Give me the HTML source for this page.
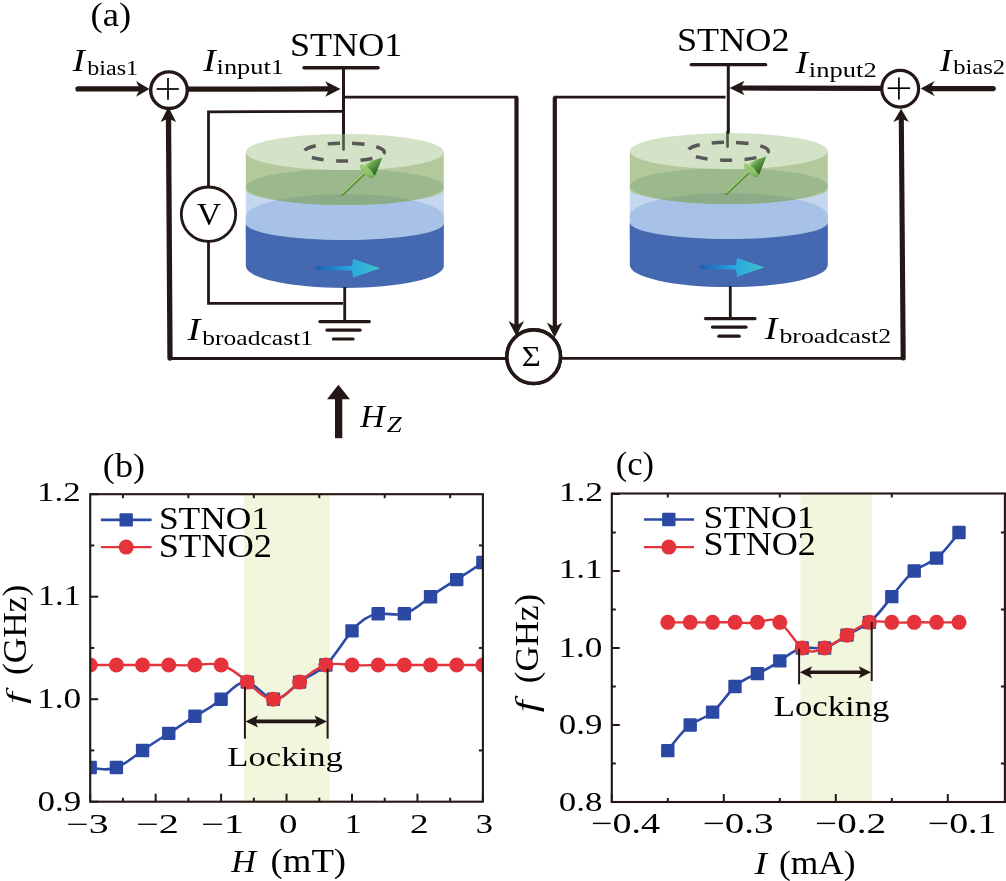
<!DOCTYPE html>
<html><head><meta charset="utf-8"><title>STNO figure</title>
<style>html,body{margin:0;padding:0;background:#fff;} svg{display:block;} text{font-family:"Liberation Serif", serif;}</style>
</head><body>
<svg width="1006" height="881" viewBox="0 0 1006 881">
<rect x="0" y="0" width="1006" height="881" fill="#fff"/>
<g transform="translate(0,0)">
<rect x="245.8" y="186" width="198.0" height="33" fill="#c4d7ee"/>
<rect x="245.8" y="216" width="198.0" height="26" fill="#a7c2e6"/>
<ellipse cx="344.8" cy="217" rx="99" ry="23" fill="#a7c2e6"/>
<path d="M245.8,223.5 V266 A99,22 0 0 0 443.8,266 V223.5 A99,16.5 0 0 1 245.8,223.5 Z" fill="#4469b1"/>
<path d="M245.8,152 V189.7 A99,14.5 0 0 0 443.8,189.7 V152 Z" fill="#b3c99c"/>
<ellipse cx="344.8" cy="187" rx="99" ry="18" fill="#9bb98d"/>
<clipPath id="cpL"><ellipse cx="344.8" cy="217" rx="99" ry="23"/></clipPath>
<ellipse cx="344.8" cy="187" rx="99" ry="18" fill="#8cab87" clip-path="url(#cpL)"/>
<ellipse cx="344.8" cy="152" rx="99" ry="18" fill="#d4e2c7"/>
<line x1="343.5" y1="133" x2="343.5" y2="149.5" stroke="#4a5f42" stroke-width="2.7" stroke-linecap="round"/>
<defs><linearGradient id="baL" x1="315.8" y1="0" x2="380.3" y2="0" gradientUnits="userSpaceOnUse"><stop offset="0" stop-color="#1f5db0"/><stop offset="0.55" stop-color="#26a9df"/><stop offset="1" stop-color="#45c1c7"/></linearGradient></defs>
<path d="M317.5,266 L352,266 L353,258.8 L380.3,268.2 L353,277.6 L352,270.4 L317.5,270.4 A2.2,2.2 0 0 1 317.5,266 Z" fill="url(#baL)"/>
<path d="M344.1,143.1 A40.2,9.0 0 0 1 344.1,161.1 A40.2,9.0 0 0 1 344.1,143.1 Z" pathLength="175.7" fill="none" stroke="#5a5758" stroke-width="3.5" stroke-dasharray="12.5 12.6" stroke-dashoffset="16.8"/>
<defs><linearGradient id="gcL" x1="366.5" y1="162.5" x2="375.5" y2="172.2" gradientUnits="userSpaceOnUse"><stop offset="0" stop-color="#c3e3a0"/><stop offset="0.3" stop-color="#6fa851"/><stop offset="1" stop-color="#336f25"/></linearGradient><linearGradient id="gdL" x1="361" y1="165" x2="374" y2="178" gradientUnits="userSpaceOnUse"><stop offset="0" stop-color="#9fd07c"/><stop offset="0.6" stop-color="#8cc268"/><stop offset="1" stop-color="#4f8a36"/></linearGradient></defs>
<path d="M382.4,157.4 L363.6,163.6 L375.0,175.9 Z" fill="url(#gcL)"/>
<line x1="342.3" y1="194.2" x2="367" y2="170.8" stroke="#5a9440" stroke-width="3.4" stroke-linecap="round"/>
<line x1="341.8" y1="193.5" x2="366.5" y2="170.2" stroke="#a8d486" stroke-width="1.5" stroke-linecap="round"/>
<ellipse cx="366.8" cy="171.2" rx="9.3" ry="3.4" transform="rotate(43.7 366.8 171.2)" fill="url(#gdL)"/>
</g>
<g transform="translate(384.0,-0.9)">
<rect x="245.8" y="186" width="198.0" height="33" fill="#c4d7ee"/>
<rect x="245.8" y="216" width="198.0" height="26" fill="#a7c2e6"/>
<ellipse cx="344.8" cy="217" rx="99" ry="23" fill="#a7c2e6"/>
<path d="M245.8,223.5 V266 A99,22 0 0 0 443.8,266 V223.5 A99,16.5 0 0 1 245.8,223.5 Z" fill="#4469b1"/>
<path d="M245.8,152 V189.7 A99,14.5 0 0 0 443.8,189.7 V152 Z" fill="#b3c99c"/>
<ellipse cx="344.8" cy="187" rx="99" ry="18" fill="#9bb98d"/>
<clipPath id="cpR"><ellipse cx="344.8" cy="217" rx="99" ry="23"/></clipPath>
<ellipse cx="344.8" cy="187" rx="99" ry="18" fill="#8cab87" clip-path="url(#cpR)"/>
<ellipse cx="344.8" cy="152" rx="99" ry="18" fill="#d4e2c7"/>
<line x1="343.5" y1="133" x2="343.5" y2="147.5" stroke="#4a5f42" stroke-width="2.7" stroke-linecap="round"/>
<defs><linearGradient id="baR" x1="315.8" y1="0" x2="380.3" y2="0" gradientUnits="userSpaceOnUse"><stop offset="0" stop-color="#1f5db0"/><stop offset="0.55" stop-color="#26a9df"/><stop offset="1" stop-color="#45c1c7"/></linearGradient></defs>
<path d="M317.5,266 L352,266 L353,258.8 L380.3,268.2 L353,277.6 L352,270.4 L317.5,270.4 A2.2,2.2 0 0 1 317.5,266 Z" fill="url(#baR)"/>
<path d="M344.1,143.1 A40.2,9.0 0 0 1 344.1,161.1 A40.2,9.0 0 0 1 344.1,143.1 Z" pathLength="175.7" fill="none" stroke="#5a5758" stroke-width="3.5" stroke-dasharray="12.5 12.6" stroke-dashoffset="16.8"/>
<defs><linearGradient id="gcR" x1="366.5" y1="162.5" x2="375.5" y2="172.2" gradientUnits="userSpaceOnUse"><stop offset="0" stop-color="#c3e3a0"/><stop offset="0.3" stop-color="#6fa851"/><stop offset="1" stop-color="#336f25"/></linearGradient><linearGradient id="gdR" x1="361" y1="165" x2="374" y2="178" gradientUnits="userSpaceOnUse"><stop offset="0" stop-color="#9fd07c"/><stop offset="0.6" stop-color="#8cc268"/><stop offset="1" stop-color="#4f8a36"/></linearGradient></defs>
<path d="M382.4,157.4 L363.6,163.6 L375.0,175.9 Z" fill="url(#gcR)"/>
<line x1="342.3" y1="194.2" x2="367" y2="170.8" stroke="#5a9440" stroke-width="3.4" stroke-linecap="round"/>
<line x1="341.8" y1="193.5" x2="366.5" y2="170.2" stroke="#a8d486" stroke-width="1.5" stroke-linecap="round"/>
<ellipse cx="366.8" cy="171.2" rx="9.3" ry="3.4" transform="rotate(43.7 366.8 171.2)" fill="url(#gdR)"/>
</g>
<line x1="304.05" y1="67.7" x2="378.05" y2="67.7" stroke="#231815" stroke-width="3.5" stroke-linecap="round"/>
<line x1="343.5" y1="67.7" x2="343.5" y2="134" stroke="#231815" stroke-width="3.0" stroke-linecap="butt"/>
<line x1="78" y1="88.9" x2="140" y2="88.9" stroke="#231815" stroke-width="5.3" stroke-linecap="round"/>
<path d="M149.50,88.90 L136.00,96.80 L140.00,88.90 L136.00,81.00 Z" fill="#231815"/>
<circle cx="169" cy="90.2" r="18.3" fill="#fff" stroke="#231815" stroke-width="3.4"/>
<line x1="156.7" y1="89" x2="178.8" y2="89" stroke="#000" stroke-width="1.7" stroke-linecap="butt"/>
<line x1="168" y1="78" x2="168" y2="99.8" stroke="#000" stroke-width="1.7" stroke-linecap="butt"/>
<line x1="188" y1="89.2" x2="331" y2="88.9" stroke="#231815" stroke-width="5.2" stroke-linecap="butt"/>
<path d="M340.60,88.90 L325.30,96.65 L329.30,88.90 L325.30,81.15 Z" fill="#231815"/>
<polyline points="343.5,97.2 516.5,97.2 516.5,323" fill="none" stroke="#231815" stroke-width="2.8" stroke-linecap="butt" stroke-linejoin="miter"/>
<line x1="516.5" y1="97.2" x2="516.5" y2="330" stroke="#231815" stroke-width="4.2" stroke-linecap="butt"/>
<path d="M516.30,336.00 L508.50,321.00 L516.30,325.50 L524.10,321.00 Z" fill="#231815"/>
<polyline points="343.5,111.3 208.5,111.8 208.5,186" fill="none" stroke="#231815" stroke-width="2.8" stroke-linecap="butt" stroke-linejoin="miter"/>
<polyline points="208.5,242 208.5,303.4 343,303.4" fill="none" stroke="#231815" stroke-width="2.8" stroke-linecap="butt" stroke-linejoin="miter"/>
<circle cx="208.5" cy="214.2" r="27.2" fill="#fff" stroke="#231815" stroke-width="2.8"/>
<line x1="344.7" y1="287" x2="344.7" y2="321.6" stroke="#231815" stroke-width="2.8" stroke-linecap="butt"/>
<line x1="319.90000000000003" y1="321.6" x2="369.29999999999995" y2="321.6" stroke="#231815" stroke-width="3.2" stroke-linecap="round"/>
<line x1="326.90000000000003" y1="330.1" x2="360.09999999999997" y2="330.1" stroke="#231815" stroke-width="3.2" stroke-linecap="round"/>
<line x1="333.40000000000003" y1="339.0" x2="353.09999999999997" y2="339.0" stroke="#231815" stroke-width="3.2" stroke-linecap="round"/>
<line x1="170.3" y1="358.5" x2="506" y2="358.5" stroke="#231815" stroke-width="2.8" stroke-linecap="butt"/>
<line x1="168.5" y1="118" x2="170.0" y2="358.0" stroke="#231815" stroke-width="5.3" stroke-linecap="round"/>
<path d="M168.40,106.80 L176.10,122.00 L168.40,118.50 L160.70,122.00 Z" fill="#231815"/>
<circle cx="533.7" cy="356.7" r="26.8" fill="#fff" stroke="#231815" stroke-width="3.6"/>
<line x1="691.2" y1="64.7" x2="765.7" y2="64.7" stroke="#231815" stroke-width="3.2" stroke-linecap="round"/>
<line x1="728.3" y1="64.7" x2="728.3" y2="133.5" stroke="#231815" stroke-width="3.0" stroke-linecap="butt"/>
<polyline points="725.5,97.2 554.8,97.2 554.8,324" fill="none" stroke="#231815" stroke-width="2.8" stroke-linecap="butt" stroke-linejoin="miter"/>
<line x1="554.8" y1="97.2" x2="554.8" y2="331" stroke="#231815" stroke-width="4.2" stroke-linecap="butt"/>
<path d="M554.60,337.60 L546.80,322.60 L554.60,327.10 L562.40,322.60 Z" fill="#231815"/>
<line x1="993.2" y1="88.6" x2="930" y2="88.6" stroke="#231815" stroke-width="5.2" stroke-linecap="round"/>
<path d="M920.70,88.60 L934.70,81.00 L930.20,88.60 L934.70,96.20 Z" fill="#231815"/>
<circle cx="900.2" cy="88.7" r="18.4" fill="#fff" stroke="#231815" stroke-width="3.2"/>
<line x1="887.6" y1="88.2" x2="910" y2="88.2" stroke="#000" stroke-width="1.7" stroke-linecap="butt"/>
<line x1="898.9" y1="77.4" x2="898.9" y2="99.5" stroke="#000" stroke-width="1.7" stroke-linecap="butt"/>
<line x1="881" y1="88.4" x2="740" y2="88.0" stroke="#231815" stroke-width="5.2" stroke-linecap="butt"/>
<path d="M729.50,88.00 L744.50,80.80 L740.50,88.00 L744.50,95.20 Z" fill="#231815"/>
<line x1="903" y1="358.3" x2="561" y2="358.3" stroke="#231815" stroke-width="2.8" stroke-linecap="butt"/>
<line x1="901.3" y1="118" x2="903.2" y2="358.0" stroke="#231815" stroke-width="5.1" stroke-linecap="round"/>
<path d="M901.10,108.80 L908.85,122.00 L901.10,118.50 L893.35,122.00 Z" fill="#231815"/>
<line x1="730.3" y1="286" x2="730.3" y2="318.6" stroke="#231815" stroke-width="2.8" stroke-linecap="butt"/>
<line x1="705.5" y1="318.6" x2="755.0" y2="318.6" stroke="#231815" stroke-width="3.2" stroke-linecap="round"/>
<line x1="712.4" y1="327.1" x2="746.1" y2="327.1" stroke="#231815" stroke-width="3.2" stroke-linecap="round"/>
<line x1="718.9" y1="336.2" x2="739.1999999999999" y2="336.2" stroke="#231815" stroke-width="3.2" stroke-linecap="round"/>
<circle cx="533.7" cy="356.7" r="26.8" fill="#fff" stroke="#231815" stroke-width="3.6"/>
<rect x="335" y="398" width="7.3" height="40.2" fill="#231815"/>
<path d="M338.4,384.8 L350,399.3 L327,399.3 Z" fill="#231815"/>
<text transform="translate(90.55,25.61) scale(1.1092,1)" font-size="32.97" style="" fill="#000000" >(a)</text>
<text transform="translate(72.49,70.80) scale(1.1987,1)" font-size="31.15" style="font-style:italic;" fill="#000000" >I</text>
<text transform="translate(87.20,75.20) scale(1.2073,1)" font-size="20.00" style="" fill="#000000" >bias1</text>
<text transform="translate(203.19,70.80) scale(1.1672,1)" font-size="32.21" style="font-style:italic;" fill="#000000" >I</text>
<text transform="translate(216.57,74.40) scale(1.2877,1)" font-size="20.46" style="" fill="#000000" >input1</text>
<text transform="translate(290.05,56.27) scale(1.0840,1)" font-size="33.28" style="" fill="#000000" >STNO1</text>
<text transform="translate(196.86,224.91) scale(1.0454,1)" font-size="32.39" style="" fill="#000000" >V</text>
<text transform="translate(187.39,340.30) scale(1.2390,1)" font-size="30.99" style="font-style:italic;" fill="#000000" >I</text>
<text transform="translate(202.30,344.58) scale(1.1784,1)" font-size="21.70" style="" fill="#000000" >broadcast1</text>
<text transform="translate(521.69,366.20) scale(1.0857,1)" font-size="30.08" style="" fill="#000000" >Σ</text>
<text transform="translate(360.14,426.60) scale(1.0855,1)" font-size="31.15" style="font-style:italic;" fill="#000000" >H</text>
<text transform="translate(386.73,431.60) scale(1.2044,1)" font-size="22.29" style="font-style:italic;" fill="#000000" >Z</text>
<text transform="translate(676.95,51.27) scale(1.0872,1)" font-size="33.28" style="" fill="#000000" >STNO2</text>
<text transform="translate(795.39,73.30) scale(1.1786,1)" font-size="31.45" style="font-style:italic;" fill="#000000" >I</text>
<text transform="translate(808.87,77.13) scale(1.3062,1)" font-size="20.34" style="" fill="#000000" >input2</text>
<text transform="translate(939.68,70.80) scale(1.1473,1)" font-size="31.15" style="font-style:italic;" fill="#000000" >I</text>
<text transform="translate(953.20,74.30) scale(1.2201,1)" font-size="20.14" style="" fill="#000000" >bias2</text>
<text transform="translate(764.69,339.10) scale(1.2279,1)" font-size="30.84" style="font-style:italic;" fill="#000000" >I</text>
<text transform="translate(779.40,343.49) scale(1.2127,1)" font-size="21.28" style="" fill="#000000" >broadcast2</text>
<rect x="244.1" y="494.2" width="85.50000000000003" height="307.50000000000006" fill="#f1f6dc"/>
<clipPath id="clipb"><rect x="90.2" y="494.2" width="392.7" height="307.50000000000006"/></clipPath><g clip-path="url(#clipb)">
<path d="M90.20,767.57 C98.93,769.10 107.65,770.63 116.38,767.57 C125.11,764.50 133.83,756.83 142.56,750.45 C151.29,744.07 160.01,738.97 168.74,733.33 C177.47,727.70 186.19,721.53 194.92,716.32 C203.65,711.11 212.37,706.85 221.10,699.20 C229.83,691.55 238.55,680.49 247.28,682.08 C256.01,683.68 264.73,697.92 273.46,699.20 C282.19,700.48 290.91,688.80 299.64,682.08 C308.37,675.36 317.09,673.60 325.82,665.07 C334.55,656.54 343.27,641.25 352.00,630.83 C360.73,620.42 369.45,614.88 378.18,613.82 C386.91,612.76 395.63,616.18 404.36,613.82 C413.09,611.46 421.81,603.31 430.54,596.70 C439.27,590.09 447.99,585.02 456.72,579.58 C465.45,574.15 474.17,568.36 482.90,562.57" fill="none" stroke="#2d4aa6" stroke-width="2.6" stroke-linejoin="round"/>
<rect x="83.50" y="760.87" width="13.4" height="13.4" rx="1.2" fill="#2b48a2"/>
<rect x="109.68" y="760.87" width="13.4" height="13.4" rx="1.2" fill="#2b48a2"/>
<rect x="135.86" y="743.75" width="13.4" height="13.4" rx="1.2" fill="#2b48a2"/>
<rect x="162.04" y="726.63" width="13.4" height="13.4" rx="1.2" fill="#2b48a2"/>
<rect x="188.22" y="709.62" width="13.4" height="13.4" rx="1.2" fill="#2b48a2"/>
<rect x="214.40" y="692.50" width="13.4" height="13.4" rx="1.2" fill="#2b48a2"/>
<rect x="240.58" y="675.38" width="13.4" height="13.4" rx="1.2" fill="#2b48a2"/>
<rect x="266.76" y="692.50" width="13.4" height="13.4" rx="1.2" fill="#2b48a2"/>
<rect x="292.94" y="675.38" width="13.4" height="13.4" rx="1.2" fill="#2b48a2"/>
<rect x="319.12" y="658.37" width="13.4" height="13.4" rx="1.2" fill="#2b48a2"/>
<rect x="345.30" y="624.13" width="13.4" height="13.4" rx="1.2" fill="#2b48a2"/>
<rect x="371.48" y="607.12" width="13.4" height="13.4" rx="1.2" fill="#2b48a2"/>
<rect x="397.66" y="607.12" width="13.4" height="13.4" rx="1.2" fill="#2b48a2"/>
<rect x="423.84" y="590.00" width="13.4" height="13.4" rx="1.2" fill="#2b48a2"/>
<rect x="450.02" y="572.88" width="13.4" height="13.4" rx="1.2" fill="#2b48a2"/>
<rect x="476.20" y="555.87" width="13.4" height="13.4" rx="1.2" fill="#2b48a2"/>
<path d="M90.20,665.03 C98.93,665.03 107.65,665.02 116.38,665.03 C125.11,665.05 133.83,665.08 142.56,665.03 C151.29,664.99 160.01,664.86 168.74,665.03 C177.47,665.21 186.19,665.69 194.92,665.03 C203.65,664.38 212.37,662.58 221.10,665.03 C229.83,667.49 238.55,674.19 247.28,682.12 C256.01,690.05 264.73,699.20 273.46,699.20 C282.19,699.20 290.91,690.05 299.64,682.12 C308.37,674.19 317.09,667.49 325.82,665.03 C334.55,662.58 343.27,664.38 352.00,665.03 C360.73,665.69 369.45,665.21 378.18,665.03 C386.91,664.86 395.63,664.99 404.36,665.03 C413.09,665.08 421.81,665.05 430.54,665.03 C439.27,665.02 447.99,665.03 456.72,665.03 C465.45,665.04 474.17,665.04 482.90,665.03" fill="none" stroke="#e5333b" stroke-width="2.4" stroke-linejoin="round"/>
<circle cx="90.20" cy="665.03" r="7.5" fill="#e5333b"/>
<circle cx="116.38" cy="665.03" r="7.5" fill="#e5333b"/>
<circle cx="142.56" cy="665.03" r="7.5" fill="#e5333b"/>
<circle cx="168.74" cy="665.03" r="7.5" fill="#e5333b"/>
<circle cx="194.92" cy="665.03" r="7.5" fill="#e5333b"/>
<circle cx="221.10" cy="665.03" r="7.5" fill="#e5333b"/>
<circle cx="247.28" cy="682.12" r="7.5" fill="#e5333b"/>
<circle cx="273.46" cy="699.20" r="7.5" fill="#e5333b"/>
<circle cx="299.64" cy="682.12" r="7.5" fill="#e5333b"/>
<circle cx="325.82" cy="665.03" r="7.5" fill="#e5333b"/>
<circle cx="352.00" cy="665.03" r="7.5" fill="#e5333b"/>
<circle cx="378.18" cy="665.03" r="7.5" fill="#e5333b"/>
<circle cx="404.36" cy="665.03" r="7.5" fill="#e5333b"/>
<circle cx="430.54" cy="665.03" r="7.5" fill="#e5333b"/>
<circle cx="456.72" cy="665.03" r="7.5" fill="#e5333b"/>
<circle cx="482.90" cy="665.03" r="7.5" fill="#e5333b"/>
</g>
<line x1="244.9" y1="686.9" x2="244.9" y2="738.6" stroke="#231815" stroke-width="2.0" stroke-linecap="butt"/>
<line x1="327.6" y1="668.6" x2="327.6" y2="738.6" stroke="#231815" stroke-width="2.0" stroke-linecap="butt"/>
<line x1="250" y1="721.4" x2="322" y2="721.4" stroke="#231815" stroke-width="3.6" stroke-linecap="butt"/>
<path d="M245.50,721.40 L257.90,715.40 L255.40,721.40 L257.90,727.40 Z" fill="#231815"/>
<path d="M327.00,721.40 L314.60,727.40 L317.10,721.40 L314.60,715.40 Z" fill="#231815"/>
<rect x="90.2" y="494.2" width="392.7" height="307.50000000000006" fill="none" stroke="#231815" stroke-width="2.1"/>
<line x1="90.2" y1="801.7" x2="90.2" y2="793.7" stroke="#231815" stroke-width="2.0" stroke-linecap="butt"/>
<line x1="122.92500000000001" y1="801.7" x2="122.92500000000001" y2="797.7" stroke="#231815" stroke-width="2.0" stroke-linecap="butt"/>
<line x1="122.92500000000001" y1="494.2" x2="122.92500000000001" y2="498.2" stroke="#231815" stroke-width="2.0" stroke-linecap="butt"/>
<line x1="155.65" y1="801.7" x2="155.65" y2="793.7" stroke="#231815" stroke-width="2.0" stroke-linecap="butt"/>
<line x1="188.375" y1="801.7" x2="188.375" y2="797.7" stroke="#231815" stroke-width="2.0" stroke-linecap="butt"/>
<line x1="188.375" y1="494.2" x2="188.375" y2="498.2" stroke="#231815" stroke-width="2.0" stroke-linecap="butt"/>
<line x1="221.10000000000002" y1="801.7" x2="221.10000000000002" y2="793.7" stroke="#231815" stroke-width="2.0" stroke-linecap="butt"/>
<line x1="253.825" y1="801.7" x2="253.825" y2="797.7" stroke="#231815" stroke-width="2.0" stroke-linecap="butt"/>
<line x1="253.825" y1="494.2" x2="253.825" y2="498.2" stroke="#231815" stroke-width="2.0" stroke-linecap="butt"/>
<line x1="286.55" y1="801.7" x2="286.55" y2="793.7" stroke="#231815" stroke-width="2.0" stroke-linecap="butt"/>
<line x1="319.27500000000003" y1="801.7" x2="319.27500000000003" y2="797.7" stroke="#231815" stroke-width="2.0" stroke-linecap="butt"/>
<line x1="319.27500000000003" y1="494.2" x2="319.27500000000003" y2="498.2" stroke="#231815" stroke-width="2.0" stroke-linecap="butt"/>
<line x1="352.0" y1="801.7" x2="352.0" y2="793.7" stroke="#231815" stroke-width="2.0" stroke-linecap="butt"/>
<line x1="384.725" y1="801.7" x2="384.725" y2="797.7" stroke="#231815" stroke-width="2.0" stroke-linecap="butt"/>
<line x1="384.725" y1="494.2" x2="384.725" y2="498.2" stroke="#231815" stroke-width="2.0" stroke-linecap="butt"/>
<line x1="417.45" y1="801.7" x2="417.45" y2="793.7" stroke="#231815" stroke-width="2.0" stroke-linecap="butt"/>
<line x1="450.175" y1="801.7" x2="450.175" y2="797.7" stroke="#231815" stroke-width="2.0" stroke-linecap="butt"/>
<line x1="450.175" y1="494.2" x2="450.175" y2="498.2" stroke="#231815" stroke-width="2.0" stroke-linecap="butt"/>
<line x1="482.90000000000003" y1="801.7" x2="482.90000000000003" y2="793.7" stroke="#231815" stroke-width="2.0" stroke-linecap="butt"/>
<line x1="90.2" y1="801.7" x2="98.2" y2="801.7" stroke="#231815" stroke-width="2.0" stroke-linecap="butt"/>
<line x1="90.2" y1="750.45" x2="94.2" y2="750.45" stroke="#231815" stroke-width="2.0" stroke-linecap="butt"/>
<line x1="482.9" y1="750.45" x2="478.9" y2="750.45" stroke="#231815" stroke-width="2.0" stroke-linecap="butt"/>
<line x1="90.2" y1="699.2" x2="98.2" y2="699.2" stroke="#231815" stroke-width="2.0" stroke-linecap="butt"/>
<line x1="90.2" y1="647.95" x2="94.2" y2="647.95" stroke="#231815" stroke-width="2.0" stroke-linecap="butt"/>
<line x1="482.9" y1="647.95" x2="478.9" y2="647.95" stroke="#231815" stroke-width="2.0" stroke-linecap="butt"/>
<line x1="90.2" y1="596.7" x2="98.2" y2="596.7" stroke="#231815" stroke-width="2.0" stroke-linecap="butt"/>
<line x1="90.2" y1="545.4500000000002" x2="94.2" y2="545.4500000000002" stroke="#231815" stroke-width="2.0" stroke-linecap="butt"/>
<line x1="482.9" y1="545.4500000000002" x2="478.9" y2="545.4500000000002" stroke="#231815" stroke-width="2.0" stroke-linecap="butt"/>
<line x1="90.2" y1="494.1999999999999" x2="98.2" y2="494.1999999999999" stroke="#231815" stroke-width="2.0" stroke-linecap="butt"/>
<line x1="100.9" y1="519.9" x2="151.6" y2="519.9" stroke="#2d4aa6" stroke-width="2.6" stroke-linecap="butt"/>
<rect x="119.50" y="513.20" width="13.4" height="13.4" rx="1.2" fill="#2b48a2"/>
<line x1="100.9" y1="547.1" x2="151.6" y2="547.1" stroke="#e5333b" stroke-width="2.4" stroke-linecap="butt"/>
<circle cx="126.20" cy="547.10" r="7.5" fill="#e5333b"/>
<text transform="translate(158.90,529.39) scale(1.1352,1)" font-size="31.19" style="" fill="#000000" >STNO1</text>
<text transform="translate(158.83,556.77) scale(1.1082,1)" font-size="32.84" style="" fill="#000000" >STNO2</text>
<text transform="translate(227.26,765.90) scale(1.2240,1)" font-size="28.35" style="" fill="#000000" >Locking</text>
<text transform="translate(102.87,477.42) scale(1.0697,1)" font-size="33.85" style="" fill="#000000" >(b)</text>
<text transform="translate(37.04,501.38) scale(1.2321,1)" font-size="28.30" style="" fill="#000000" >1.2</text>
<text transform="translate(37.67,604.77) scale(1.2122,1)" font-size="28.44" style="" fill="#000000" >1.1</text>
<text transform="translate(36.99,708.06) scale(1.2150,1)" font-size="29.12" style="" fill="#000000" >1.0</text>
<text transform="translate(37.40,810.66) scale(1.2035,1)" font-size="29.12" style="" fill="#000000" >0.9</text>
<text transform="translate(66.41,832.53) scale(1.4979,1)" font-size="26.57" style="" fill="#000000" >−3</text>
<text transform="translate(135.98,832.80) scale(1.4947,1)" font-size="26.97" style="" fill="#000000" >−2</text>
<text transform="translate(200.97,832.80) scale(1.5064,1)" font-size="26.97" style="" fill="#000000" >−1</text>
<text transform="translate(279.02,832.54) scale(1.3995,1)" font-size="26.37" style="" fill="#000000" >0</text>
<text transform="translate(344.73,832.80) scale(1.2534,1)" font-size="26.97" style="" fill="#000000" >1</text>
<text transform="translate(410.12,832.80) scale(1.3812,1)" font-size="26.97" style="" fill="#000000" >2</text>
<text transform="translate(475.85,832.53) scale(1.2970,1)" font-size="26.57" style="" fill="#000000" >3</text>
<text transform="translate(231.14,871.70) scale(1.0820,1)" font-size="31.60" style="font-style:italic;" fill="#000000" >H</text>
<text transform="translate(270.54,871.71) scale(1.1161,1)" font-size="32.97" style="" fill="#000000" >(mT)</text>
<text transform="translate(24.94,703.93) rotate(-90) scale(1.5368,1)" font-size="27.72" style="font-style:italic;" fill="#000000">f</text>
<text transform="translate(26.30,675.09) rotate(-90) scale(1.0418,1)" font-size="33.96" style="" fill="#000000">(GHz)</text>
<rect x="800.6" y="493.5" width="71.19999999999993" height="308.5" fill="#f1f6dc"/>
<clipPath id="clipc"><rect x="611.8" y="493.5" width="393.1" height="308.5"/></clipPath><g clip-path="url(#clipc)">
<path d="M667.80,750.64 C675.27,740.57 682.73,730.49 690.20,725.00 C697.67,719.51 705.13,718.60 712.60,712.14 C720.07,705.68 727.53,693.68 735.00,686.50 C742.47,679.32 749.93,676.95 757.40,673.64 C764.87,670.33 772.33,666.07 779.80,660.86 C787.27,655.65 794.73,649.48 802.20,648.00 C809.67,646.52 817.13,649.73 824.60,648.00 C832.07,646.27 839.53,639.61 847.00,635.14 C854.47,630.67 861.93,628.39 869.40,622.36 C876.87,616.33 884.33,606.54 891.80,596.64 C899.27,586.74 906.73,576.72 914.20,571.00 C921.67,565.28 929.13,563.84 936.60,558.14 C944.07,552.44 951.53,542.47 959.00,532.50" fill="none" stroke="#2d4aa6" stroke-width="2.6" stroke-linejoin="round"/>
<rect x="661.10" y="743.94" width="13.4" height="13.4" rx="1.2" fill="#2b48a2"/>
<rect x="683.50" y="718.30" width="13.4" height="13.4" rx="1.2" fill="#2b48a2"/>
<rect x="705.90" y="705.44" width="13.4" height="13.4" rx="1.2" fill="#2b48a2"/>
<rect x="728.30" y="679.80" width="13.4" height="13.4" rx="1.2" fill="#2b48a2"/>
<rect x="750.70" y="666.94" width="13.4" height="13.4" rx="1.2" fill="#2b48a2"/>
<rect x="773.10" y="654.16" width="13.4" height="13.4" rx="1.2" fill="#2b48a2"/>
<rect x="795.50" y="641.30" width="13.4" height="13.4" rx="1.2" fill="#2b48a2"/>
<rect x="817.90" y="641.30" width="13.4" height="13.4" rx="1.2" fill="#2b48a2"/>
<rect x="840.30" y="628.44" width="13.4" height="13.4" rx="1.2" fill="#2b48a2"/>
<rect x="862.70" y="615.66" width="13.4" height="13.4" rx="1.2" fill="#2b48a2"/>
<rect x="885.10" y="589.94" width="13.4" height="13.4" rx="1.2" fill="#2b48a2"/>
<rect x="907.50" y="564.30" width="13.4" height="13.4" rx="1.2" fill="#2b48a2"/>
<rect x="929.90" y="551.44" width="13.4" height="13.4" rx="1.2" fill="#2b48a2"/>
<rect x="952.30" y="525.80" width="13.4" height="13.4" rx="1.2" fill="#2b48a2"/>
<path d="M667.80,622.36 C675.27,622.34 682.73,622.33 690.20,622.36 C697.67,622.39 705.13,622.46 712.60,622.36 C720.07,622.26 727.53,621.98 735.00,622.36 C742.47,622.74 749.93,623.77 757.40,622.36 C764.87,620.95 772.33,617.08 779.80,622.36 C787.27,627.63 794.73,642.05 802.20,648.00 C809.67,653.95 817.13,651.45 824.60,648.00 C832.07,644.55 839.53,640.17 847.00,635.14 C854.47,630.11 861.93,624.44 869.40,622.36 C876.87,620.28 884.33,621.80 891.80,622.36 C899.27,622.92 906.73,622.51 914.20,622.36 C921.67,622.21 929.13,622.32 936.60,622.36 C944.07,622.40 951.53,622.38 959.00,622.36" fill="none" stroke="#e5333b" stroke-width="2.4" stroke-linejoin="round"/>
<circle cx="667.80" cy="622.36" r="7.5" fill="#e5333b"/>
<circle cx="690.20" cy="622.36" r="7.5" fill="#e5333b"/>
<circle cx="712.60" cy="622.36" r="7.5" fill="#e5333b"/>
<circle cx="735.00" cy="622.36" r="7.5" fill="#e5333b"/>
<circle cx="757.40" cy="622.36" r="7.5" fill="#e5333b"/>
<circle cx="779.80" cy="622.36" r="7.5" fill="#e5333b"/>
<circle cx="802.20" cy="648.00" r="7.5" fill="#e5333b"/>
<circle cx="824.60" cy="648.00" r="7.5" fill="#e5333b"/>
<circle cx="847.00" cy="635.14" r="7.5" fill="#e5333b"/>
<circle cx="869.40" cy="622.36" r="7.5" fill="#e5333b"/>
<circle cx="891.80" cy="622.36" r="7.5" fill="#e5333b"/>
<circle cx="914.20" cy="622.36" r="7.5" fill="#e5333b"/>
<circle cx="936.60" cy="622.36" r="7.5" fill="#e5333b"/>
<circle cx="959.00" cy="622.36" r="7.5" fill="#e5333b"/>
</g>
<line x1="799.1" y1="648.7" x2="799.1" y2="684.4" stroke="#231815" stroke-width="2.0" stroke-linecap="butt"/>
<line x1="871.7" y1="622.1" x2="871.7" y2="681.1" stroke="#231815" stroke-width="2.0" stroke-linecap="butt"/>
<line x1="804" y1="672.3" x2="867" y2="672.3" stroke="#231815" stroke-width="3.6" stroke-linecap="butt"/>
<path d="M799.80,672.30 L812.00,666.30 L809.50,672.30 L812.00,678.30 Z" fill="#231815"/>
<path d="M871.00,672.30 L858.80,678.30 L861.30,672.30 L858.80,666.30 Z" fill="#231815"/>
<rect x="611.8" y="493.5" width="393.1" height="308.5" fill="none" stroke="#231815" stroke-width="2.1"/>
<line x1="611.8" y1="802.0" x2="611.8" y2="794.0" stroke="#231815" stroke-width="2.0" stroke-linecap="butt"/>
<line x1="667.8" y1="802.0" x2="667.8" y2="798.0" stroke="#231815" stroke-width="2.0" stroke-linecap="butt"/>
<line x1="667.8" y1="493.5" x2="667.8" y2="497.5" stroke="#231815" stroke-width="2.0" stroke-linecap="butt"/>
<line x1="723.8" y1="802.0" x2="723.8" y2="794.0" stroke="#231815" stroke-width="2.0" stroke-linecap="butt"/>
<line x1="779.8" y1="802.0" x2="779.8" y2="798.0" stroke="#231815" stroke-width="2.0" stroke-linecap="butt"/>
<line x1="779.8" y1="493.5" x2="779.8" y2="497.5" stroke="#231815" stroke-width="2.0" stroke-linecap="butt"/>
<line x1="835.8" y1="802.0" x2="835.8" y2="794.0" stroke="#231815" stroke-width="2.0" stroke-linecap="butt"/>
<line x1="891.8" y1="802.0" x2="891.8" y2="798.0" stroke="#231815" stroke-width="2.0" stroke-linecap="butt"/>
<line x1="891.8" y1="493.5" x2="891.8" y2="497.5" stroke="#231815" stroke-width="2.0" stroke-linecap="butt"/>
<line x1="947.8" y1="802.0" x2="947.8" y2="794.0" stroke="#231815" stroke-width="2.0" stroke-linecap="butt"/>
<line x1="611.8" y1="802.0" x2="619.8" y2="802.0" stroke="#231815" stroke-width="2.0" stroke-linecap="butt"/>
<line x1="611.8" y1="763.5" x2="615.8" y2="763.5" stroke="#231815" stroke-width="2.0" stroke-linecap="butt"/>
<line x1="1004.9" y1="763.5" x2="1000.9" y2="763.5" stroke="#231815" stroke-width="2.0" stroke-linecap="butt"/>
<line x1="611.8" y1="725.0" x2="619.8" y2="725.0" stroke="#231815" stroke-width="2.0" stroke-linecap="butt"/>
<line x1="611.8" y1="686.5" x2="615.8" y2="686.5" stroke="#231815" stroke-width="2.0" stroke-linecap="butt"/>
<line x1="1004.9" y1="686.5" x2="1000.9" y2="686.5" stroke="#231815" stroke-width="2.0" stroke-linecap="butt"/>
<line x1="611.8" y1="648.0" x2="619.8" y2="648.0" stroke="#231815" stroke-width="2.0" stroke-linecap="butt"/>
<line x1="611.8" y1="609.5" x2="615.8" y2="609.5" stroke="#231815" stroke-width="2.0" stroke-linecap="butt"/>
<line x1="1004.9" y1="609.5" x2="1000.9" y2="609.5" stroke="#231815" stroke-width="2.0" stroke-linecap="butt"/>
<line x1="611.8" y1="571.0" x2="619.8" y2="571.0" stroke="#231815" stroke-width="2.0" stroke-linecap="butt"/>
<line x1="611.8" y1="532.5" x2="615.8" y2="532.5" stroke="#231815" stroke-width="2.0" stroke-linecap="butt"/>
<line x1="1004.9" y1="532.5" x2="1000.9" y2="532.5" stroke="#231815" stroke-width="2.0" stroke-linecap="butt"/>
<line x1="611.8" y1="493.9999999999999" x2="619.8" y2="493.9999999999999" stroke="#231815" stroke-width="2.0" stroke-linecap="butt"/>
<line x1="643.9" y1="519.5" x2="694" y2="519.5" stroke="#2d4aa6" stroke-width="2.6" stroke-linecap="butt"/>
<rect x="662.10" y="512.80" width="13.4" height="13.4" rx="1.2" fill="#2b48a2"/>
<line x1="643.9" y1="547.1" x2="694" y2="547.1" stroke="#e5333b" stroke-width="2.4" stroke-linecap="butt"/>
<circle cx="668.80" cy="547.10" r="7.5" fill="#e5333b"/>
<text transform="translate(703.58,528.29) scale(1.1615,1)" font-size="30.75" style="" fill="#000000" >STNO1</text>
<text transform="translate(703.55,555.16) scale(1.0756,1)" font-size="33.58" style="" fill="#000000" >STNO2</text>
<text transform="translate(773.76,716.14) scale(1.1917,1)" font-size="29.12" style="" fill="#000000" >Locking</text>
<text transform="translate(615.65,475.49) scale(1.0296,1)" font-size="33.52" style="" fill="#000000" >(c)</text>
<text transform="translate(558.68,501.29) scale(1.2984,1)" font-size="27.41" style="" fill="#000000" >1.2</text>
<text transform="translate(558.71,577.79) scale(1.2985,1)" font-size="27.11" style="" fill="#000000" >1.1</text>
<text transform="translate(558.40,657.07) scale(1.2433,1)" font-size="28.38" style="" fill="#000000" >1.0</text>
<text transform="translate(558.80,734.37) scale(1.2317,1)" font-size="28.38" style="" fill="#000000" >0.9</text>
<text transform="translate(558.80,810.50) scale(1.3061,1)" font-size="26.76" style="" fill="#000000" >0.8</text>
<text transform="translate(590.89,832.87) scale(1.3156,1)" font-size="28.97" style="" fill="#000000" >−0.4</text>
<text transform="translate(702.65,832.87) scale(1.3487,1)" font-size="28.97" style="" fill="#000000" >−0.3</text>
<text transform="translate(815.04,832.87) scale(1.3525,1)" font-size="28.97" style="" fill="#000000" >−0.2</text>
<text transform="translate(927.70,832.87) scale(1.3119,1)" font-size="28.97" style="" fill="#000000" >−0.1</text>
<text transform="translate(754.49,873.90) scale(1.1644,1)" font-size="32.06" style="font-style:italic;" fill="#000000" >I</text>
<text transform="translate(778.91,873.91) scale(1.0748,1)" font-size="32.97" style="" fill="#000000" >(mA)</text>
<text transform="translate(537.43,712.13) rotate(-90) scale(1.3946,1)" font-size="30.54" style="font-style:italic;" fill="#000000">f</text>
<text transform="translate(537.91,683.28) rotate(-90) scale(1.0620,1)" font-size="32.97" style="" fill="#000000">(GHz)</text>
</svg>
</body></html>
